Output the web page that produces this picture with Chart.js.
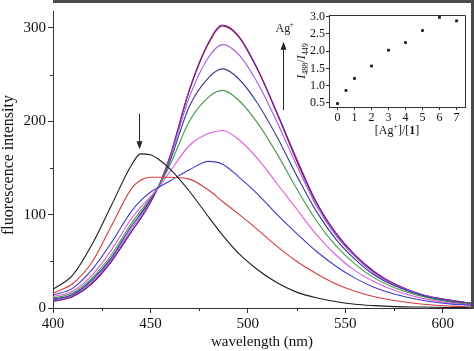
<!DOCTYPE html>
<html>
<head>
<meta charset="utf-8">
<script src="https://cdn.jsdelivr.net/npm/chart.js@4.4.0/dist/chart.umd.min.js"></script>
<style>
  body { margin: 0; background: #fff; }
  #wrap { position: relative; width: 474px; height: 351px; }
  #inset { position: absolute; left: 290px; top: 0; }
</style>
</head>
<body>
<div id="wrap">
  <canvas id="main" width="474" height="351"></canvas>
  <canvas id="inset" width="184" height="140"></canvas>
</div>
<script>
// emission spectra, one array per equivalent of Ag+
const wavelengths = [400, 410, 420, 430, 440, 445, 450, 455, 460, 470, 480, 487, 495, 505, 515, 525, 535, 545, 555, 565, 575, 590, 605, 615];
const eq0   = [20, 35, 68, 110, 152, 165, 164, 158, 149, 125, 97, 78, 59, 41, 27, 17, 11, 7, 4, 2.5, 1.5, 1, 0.5, 0.3];
const eq0_5 = [16, 26, 49, 88, 127, 137, 140, 140, 140, 138, 126, 114, 101, 84, 66, 50, 37, 26, 18, 12, 8, 4, 2, 1];
const eq1   = [14, 21, 41, 70, 103, 115, 124, 130, 136, 148, 157, 154, 141, 122, 100, 80, 61, 45, 32, 22, 15, 8, 4, 3];
const eq2   = [12, 18, 35, 62, 95, 108, 119, 131, 146, 174, 187, 190, 181, 160, 133, 106, 79, 57, 40, 28, 19, 10, 5, 3];
const eq3   = [10.5, 16, 32, 57, 90, 104, 118, 133, 153, 200, 226, 233, 223, 198, 165, 128, 94, 67, 47, 32, 22, 12, 6, 4];
const eq4   = [9.5, 14.5, 30, 54, 87, 101, 116, 133, 157, 216, 247, 256, 246, 219, 183, 142, 104, 74, 52, 35, 24, 13, 7, 5];
const eq5   = [8.5, 13.5, 28, 52, 84, 99, 115, 134, 160, 226, 269, 282, 272, 241, 199, 153, 110, 78, 55, 37, 25, 14, 7, 5];
const eq6   = [7.5, 12.5, 26.5, 50, 81, 96, 113, 134, 162, 234, 285, 303, 292, 256, 209, 160, 114, 81, 57, 39, 26, 14, 8, 5];
const eq7   = [7, 12, 26, 50, 81, 96, 113, 134, 162, 233, 284, 302, 291, 255, 208, 158, 113, 80, 56, 38, 26, 14, 8, 5];

const spectra = [eq0, eq0_5, eq1, eq2, eq3, eq4, eq5, eq6, eq7];
const spectraColors = ['#1c1c1c', '#d23c3c', '#3b3bc4', '#de5ade', '#3f984a', '#383890', '#9b5be2', '#7d22a3', '#7a0c2c'];

// inset: I488/I449 against [Ag+]/[1]
const ratioEquiv = [0, 0.5, 1, 2, 3, 4, 5, 6, 7];
const ratioValue = [0.48, 0.86, 1.21, 1.57, 2.03, 2.25, 2.60, 2.98, 2.88];

const xTicks = [400, 450, 500, 550, 600];
const yTicks = [0, 100, 200, 300];
const insetXTicks = [0, 1, 2, 3, 4, 5, 6, 7];
const insetYTicks = [0.5, 1.0, 1.5, 2.0, 2.5, 3.0];

const serif = '"Liberation Serif", "Times New Roman", serif';
const axisColor = '#333';

const drawArrow = (ctx, x, yFrom, yTo) => {
  const dir = yTo > yFrom ? 1 : -1;
  ctx.beginPath();
  ctx.moveTo(x, yFrom);
  ctx.lineTo(x, yTo - dir * 7);
  ctx.stroke();
  ctx.beginPath();
  ctx.moveTo(x, yTo);
  ctx.lineTo(x - 3, yTo - dir * 8);
  ctx.lineTo(x + 3, yTo - dir * 8);
  ctx.closePath();
  ctx.fill();
};

const mainExtras = {
  id: 'mainExtras',
  afterDraw(chart) {
    const { ctx, chartArea: a, scales: { x, y } } = chart;
    ctx.save();
    ctx.strokeStyle = axisColor;
    ctx.fillStyle = axisColor;
    ctx.lineWidth = 1;
    // minor ticks
    [425, 475, 525, 575].forEach(v => {
      const px = Math.round(x.getPixelForValue(v)) + 0.5;
      ctx.beginPath(); ctx.moveTo(px, a.bottom); ctx.lineTo(px, a.bottom + 3); ctx.stroke();
    });
    [50, 150, 250].forEach(v => {
      const py = Math.round(y.getPixelForValue(v)) + 0.5;
      ctx.beginPath(); ctx.moveTo(a.left, py); ctx.lineTo(a.left - 3, py); ctx.stroke();
    });
    // heavy top and right frame
    ctx.fillStyle = '#4a4a4a';
    ctx.fillRect(a.left, 0, chart.width - a.left, 3);
    ctx.fillRect(a.right, 0, chart.width - a.right, a.bottom + 1);
    // y title, sitting a bit below the axis centre as in the original
    ctx.fillStyle = '#111';
    ctx.font = '16px ' + serif;
    ctx.textAlign = 'center';
    ctx.textBaseline = 'middle';
    ctx.translate(9, 165);
    ctx.rotate(-Math.PI / 2);
    ctx.fillText('fluorescence intensity', 0, 0);
    ctx.setTransform(1, 0, 0, 1, 0, 0);
    // arrows
    ctx.fillStyle = '#222';
    ctx.strokeStyle = '#222';
    drawArrow(ctx, Math.round(x.getPixelForValue(444)) + 0.5, y.getPixelForValue(208), y.getPixelForValue(170));
    const agX = Math.round(x.getPixelForValue(518)) + 0.5;
    drawArrow(ctx, agX, y.getPixelForValue(212), y.getPixelForValue(285));
    ctx.font = '12px ' + serif;
    ctx.textAlign = 'left';
    ctx.textBaseline = 'alphabetic';
    const agY = y.getPixelForValue(296);
    ctx.fillText('Ag', agX - 8, agY);
    ctx.font = '8px ' + serif;
    ctx.fillText('+', agX + 6, agY - 5);
    ctx.restore();
  }
};

new Chart(document.getElementById('main'), {
  type: 'line',
  data: {
    datasets: spectra.map((series, i) => ({
      data: wavelengths.map((w, j) => ({ x: w, y: series[j] })),
      borderColor: spectraColors[i],
      borderWidth: 1.1,
      pointRadius: 0,
      cubicInterpolationMode: 'monotone',
      fill: false,
    })),
  },
  options: {
    responsive: false,
    animation: false,
    events: [],
    layout: { padding: { top: 3, right: 3, left: 0, bottom: 0 } },
    plugins: { legend: { display: false }, tooltip: { enabled: false } },
    scales: {
      x: {
        type: 'linear',
        min: 400,
        max: 614.5,
        afterFit(scale) { scale.height = 43; },
        afterBuildTicks(scale) { scale.ticks = xTicks.map(v => ({ value: v })); },
        grid: { drawOnChartArea: false, tickLength: 5, tickColor: axisColor },
        border: { color: axisColor, width: 1 },
        ticks: { font: { family: serif, size: 15 }, color: '#111', padding: 2 },
        title: { display: true, text: 'wavelength (nm)', font: { family: serif, size: 15 }, color: '#111', padding: { top: 0, bottom: 0 } },
      },
      y: {
        min: 0,
        max: 318,
        afterFit(scale) { scale.width = 53; },
        afterBuildTicks(scale) { scale.ticks = yTicks.map(v => ({ value: v })); },
        grid: { drawOnChartArea: false, tickLength: 5, tickColor: axisColor },
        border: { color: axisColor, width: 1 },
        ticks: { font: { family: serif, size: 15 }, color: '#111', padding: 2 },
      },
    },
  },
  plugins: [mainExtras],
});

const insetExtras = {
  id: 'insetExtras',
  afterDraw(chart) {
    const { ctx, chartArea: a } = chart;
    ctx.save();
    ctx.strokeStyle = axisColor;
    ctx.lineWidth = 1;
    ctx.beginPath();
    ctx.moveTo(a.left, a.top + 0.5); ctx.lineTo(a.right + 0.5, a.top + 0.5); ctx.lineTo(a.right + 0.5, a.bottom);
    ctx.stroke();
    ctx.fillStyle = '#111';
    ctx.textBaseline = 'alphabetic';
    // x title: [Ag+]/[1]
    const parts = [
      { t: '[Ag', f: '12px ' + serif, dy: 0 },
      { t: '+', f: '8px ' + serif, dy: -5 },
      { t: ']/[', f: '12px ' + serif, dy: 0 },
      { t: '1', f: 'bold 12px ' + serif, dy: 0 },
      { t: ']', f: '12px ' + serif, dy: 0 },
    ];
    let total = 0;
    parts.forEach(p => { ctx.font = p.f; p.w = ctx.measureText(p.t).width; total += p.w; });
    let cx = (a.left + a.right) / 2 - total / 2;
    parts.forEach(p => { ctx.font = p.f; ctx.fillText(p.t, cx, 134 + p.dy); cx += p.w; });
    // y title: I488/I449, rotated
    const yParts = [
      { t: 'I', f: 'italic 12px ' + serif, dy: 0 },
      { t: '488', f: '8px ' + serif, dy: 3 },
      { t: '/', f: '12px ' + serif, dy: 0 },
      { t: 'I', f: 'italic 12px ' + serif, dy: 0 },
      { t: '449', f: '8px ' + serif, dy: 3 },
    ];
    total = 0;
    yParts.forEach(p => { ctx.font = p.f; p.w = ctx.measureText(p.t).width; total += p.w; });
    ctx.translate(15, (a.top + a.bottom) / 2);
    ctx.rotate(-Math.PI / 2);
    cx = -total / 2;
    yParts.forEach(p => { ctx.font = p.f; ctx.fillText(p.t, cx, p.dy); cx += p.w; });
    ctx.restore();
  }
};

new Chart(document.getElementById('inset'), {
  type: 'scatter',
  data: {
    datasets: [{
      data: ratioEquiv.map((e, i) => ({ x: e, y: ratioValue[i] })),
      pointStyle: 'rect',
      pointRadius: 1.9,
      backgroundColor: '#111',
      borderColor: '#111',
      borderWidth: 0,
    }],
  },
  options: {
    responsive: false,
    animation: false,
    events: [],
    layout: { padding: { top: 15, right: 9, left: 0, bottom: 0 } },
    plugins: { legend: { display: false }, tooltip: { enabled: false } },
    scales: {
      x: {
        type: 'linear',
        min: -0.5,
        max: 7.5,
        afterFit(scale) { scale.height = 33; },
        afterBuildTicks(scale) { scale.ticks = insetXTicks.map(v => ({ value: v })); },
        ticks: { font: { family: serif, size: 12 }, color: '#111', padding: 1 },
        grid: { drawOnChartArea: false, tickLength: 3, tickColor: axisColor },
        border: { color: axisColor, width: 1 },
      },
      y: {
        min: 0.38,
        max: 3.05,
        afterFit(scale) { scale.width = 39; },
        afterBuildTicks(scale) { scale.ticks = insetYTicks.map(v => ({ value: v })); },
        ticks: { font: { family: serif, size: 12 }, color: '#111', padding: 1, callback: v => v.toFixed(1) },
        grid: { drawOnChartArea: false, tickLength: 3, tickColor: axisColor },
        border: { color: axisColor, width: 1 },
      },
    },
  },
  plugins: [insetExtras],
});
</script>
</body>
</html>
